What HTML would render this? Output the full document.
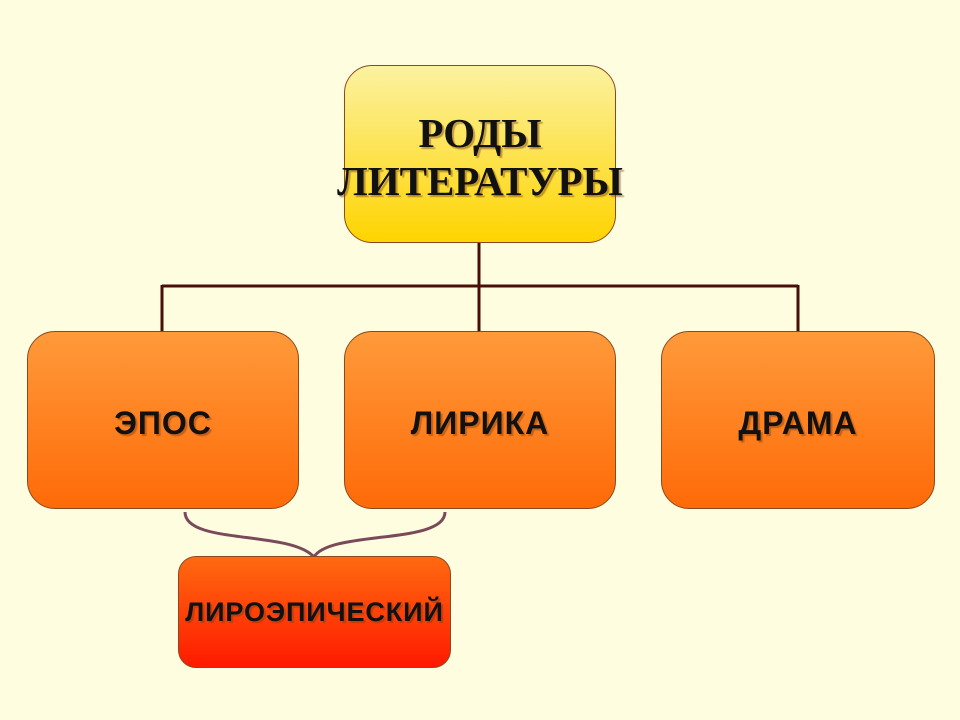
<!DOCTYPE html>
<html><head><meta charset="utf-8"><style>
body{margin:0;width:960px;height:720px;background:#fefddf;position:relative;overflow:hidden;font-family:"Liberation Sans",sans-serif}
.b{position:absolute;border:1.5px solid #8a4a20;border-radius:28px;box-sizing:border-box;display:flex;align-items:center;justify-content:center;text-align:center;font-weight:bold;color:#111;text-shadow:2px 2px 1px rgba(120,60,20,.45);white-space:nowrap}
.o{background:linear-gradient(#ff9a3a,#ff6a08);font-size:32px;letter-spacing:1px;padding-top:6px}
</style></head><body>
<svg width="960" height="720" style="position:absolute;left:0;top:0">
<g stroke="#4a0e08" stroke-width="3" fill="none">
<line x1="479" y1="242" x2="479" y2="332"/>
<line x1="162" y1="286" x2="798" y2="286"/>
<line x1="162" y1="285" x2="162" y2="332"/>
<line x1="798" y1="285" x2="798" y2="332"/>
</g>
<path d="M185 512 C185 545 290 530 314 557 C330 530 445 545 445 512" stroke="#7a4a5a" stroke-width="3" fill="none"/>
</svg>
<div class="b" style="left:344px;top:65px;width:272px;height:178px;background:linear-gradient(#fbf2a0,#ffd400);font-family:'Liberation Serif',serif;font-size:41px;line-height:48px;padding-top:6px">РОДЫ<br>ЛИТЕРАТУРЫ</div>
<div class="b o" style="left:27px;top:331px;width:272px;height:178px">ЭПОС</div>
<div class="b o" style="left:344px;top:331px;width:272px;height:178px">ЛИРИКА</div>
<div class="b o" style="left:661px;top:331px;width:274px;height:178px">ДРАМА</div>
<div class="b" style="left:178px;top:556px;width:273px;height:112px;background:linear-gradient(#ff6a10,#ff1a00);font-size:27px;letter-spacing:0.9px;border-radius:18px">ЛИРОЭПИЧЕСКИЙ</div>
</body></html>
